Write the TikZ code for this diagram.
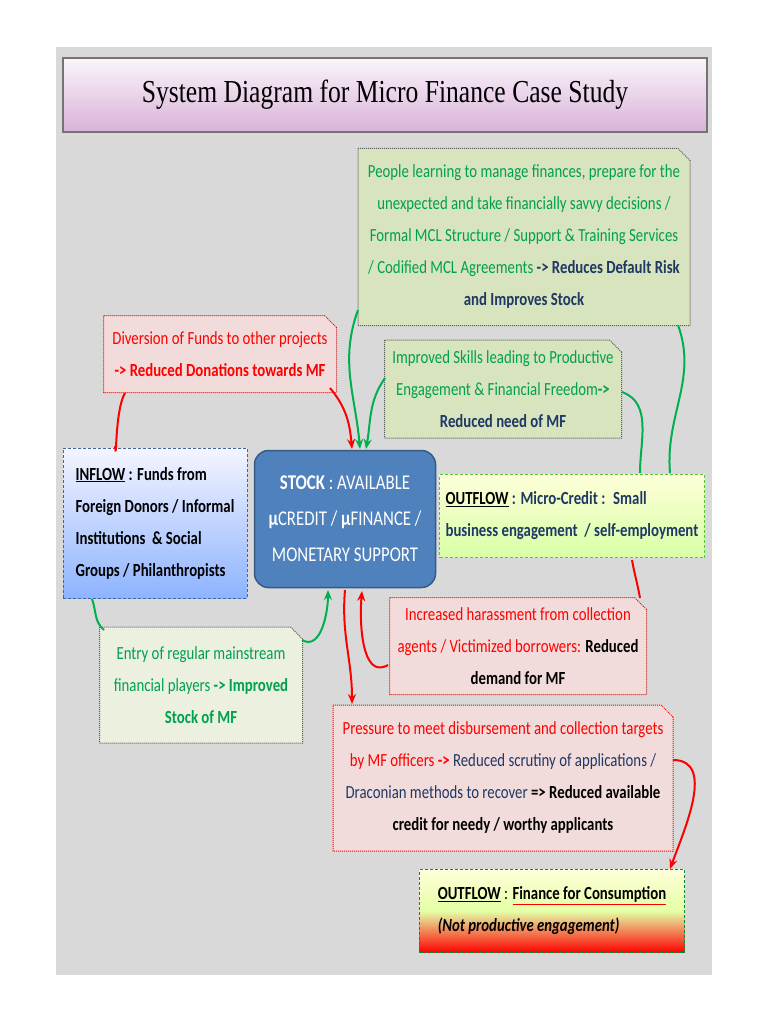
\documentclass[tikz,border=0pt]{standalone}
\usepackage{fontspec}
\setmainfont{Carlito}[FakeStretch=0.8]
\newfontfamily\titlefont{Liberation Serif}[FakeStretch=0.8]
\usetikzlibrary{shapes.misc,arrows.meta}
\definecolor{bgg}{HTML}{D9D9D9}
\definecolor{gtxt}{HTML}{00A050}
\definecolor{navy}{HTML}{1F3864}
\definecolor{gfill}{HTML}{D7E4BD}
\definecolor{lgfill}{HTML}{EBF1DE}
\definecolor{pfill}{HTML}{F2DCDB}
\definecolor{stockc}{HTML}{4F81BD}
\definecolor{arrg}{HTML}{00B050}
\tikzset{
 box/.style={chamfered rectangle,chamfered rectangle corners=north east,chamfered rectangle xsep=6pt,chamfered rectangle ysep=6pt,inner sep=0pt,align=center,font=\fontsize{18.5}{32}\selectfont},
 gbox/.style={box,fill=gfill,draw=black!65,densely dotted,line width=1pt,text=gtxt},
 lgbox/.style={box,fill=lgfill,draw=black!65,densely dotted,line width=1pt,text=gtxt},
 pbox/.style={box,fill=pfill,draw=red,densely dotted,line width=1pt,text=red},
 rarr/.style={draw=red,line width=2pt,-{Stealth[length=10pt,width=8pt]}},
 garr/.style={draw=arrg,line width=2pt,-{Stealth[length=10pt,width=8pt]}},
 rline/.style={draw=red,line width=2pt},
 gline/.style={draw=arrg,line width=2pt},
}
\begin{document}
\begin{tikzpicture}[x=1pt,y=-1pt]
\useasboundingbox (0,0) rectangle (768,1024);
\fill[white] (0,0) rectangle (768,1024);
\fill[bgg] (56,47) rectangle (712,975);
\node[draw=black!55,line width=1.5pt,top color=white!80!violet!20,bottom color=violet!30!white,minimum width=644pt,minimum height=74pt,inner sep=0pt,font=\titlefont\fontsize{32}{34}\selectfont] (title) at (385,95) {System Diagram for Micro Finance Case Study};

\node[gbox,minimum width=332pt,minimum height=177pt] (top) at (524,237) {People learning to manage finances, prepare for the\\ unexpected and take financially savvy decisions /\\ Formal MCL Structure / Support \& Training Services\\ / Codified MCL Agreements {\bfseries\color{navy}-> Reduces Default Risk}\\ {\bfseries\color{navy}and Improves Stock}};

\node[pbox,minimum width=233pt,minimum height=77pt] (div) at (220,354) {Diversion of Funds to other projects\\ {\bfseries -> Reduced Donations towards MF}};

\node[gbox,minimum width=237pt,minimum height=98pt] (skill) at (503,389) {Improved Skills leading to Productive\\ Engagement \& Financial Freedom{\bfseries ->}\\ {\bfseries\color{navy}Reduced need of MF}};

\node[draw=stockc!80!black,densely dashed,line width=1pt,top color=blue!4!white,bottom color=blue!35!white!85!cyan,minimum width=184pt,minimum height=150pt,inner sep=0pt,align=left,font=\fontsize{18.5}{32}\selectfont\bfseries] (in) at (155,523) {\underline{INFLOW} : Funds from\\ Foreign Donors / Informal\\ Institutions \ \& Social\\ Groups / Philanthropists};

\node[rounded corners=14pt,fill=stockc,draw=stockc!70!black,line width=1.5pt,minimum width=181pt,minimum height=137pt,inner sep=0pt,align=center,text=white,font=\fontsize{21}{36}\selectfont] (stock) at (345,519) {{\bfseries STOCK} : AVAILABLE\\ {\bfseries µ}CREDIT / {\bfseries µ}FINANCE /\\ MONETARY SUPPORT};

\node[draw=arrg!70!yellow,densely dashed,line width=1pt,top color=yellow!15!white,bottom color=green!45!yellow!35!white,minimum width=265pt,minimum height=83pt,inner sep=0pt,align=left,font=\fontsize{18.5}{32}\selectfont\bfseries,text=navy] (out1) at (572,516) {{\color{black}\underline{OUTFLOW}} : Micro-Credit : \ Small\\ business engagement \ / self-employment};

\node[lgbox,minimum width=203pt,minimum height=116pt] (entry) at (201,685) {Entry of regular mainstream\\ financial players {\bfseries -> Improved}\\ {\bfseries Stock of MF}};

\node[pbox,minimum width=257pt,minimum height=97pt] (har) at (518,646) {Increased harassment from collection\\ agents / Victimized borrowers: {\bfseries\color{black}Reduced}\\ {\bfseries\color{black}demand for MF}};

\node[pbox,minimum width=340pt,minimum height=146pt] (pres) at (503,778) {Pressure to meet disbursement and collection targets\\ by MF officers {\bfseries->} {\color{navy}Reduced scrutiny of applications /}\\ {\color{navy}Draconian methods to recover} {\bfseries\color{black}=> Reduced available}\\ {\bfseries\color{black}credit for needy / worthy applicants}};

\node[draw=arrg!80!black,densely dashed,line width=1pt,top color=yellow!15!white,bottom color=red,middle color=green!30!yellow!35!white,minimum width=265pt,minimum height=83pt,inner sep=0pt,align=left,font=\fontsize{18.5}{32}\selectfont] (out2) at (552,911) {{\bfseries\underline{OUTFLOW}} : {\color{red}\underline{\color{black}\bfseries Finance for Consumption}}\\ {\bfseries\itshape (Not productive engagement)}};

% connectors
\coordinate (a1) at (115,446); \coordinate (a2) at (125,393);
\draw[rline] (a1) to[out=-85,in=-120] (a2);
\coordinate (b1) at (330,388); \coordinate (b2) at (352,449);
\draw[rarr] (b1) to[out=-50,in=95] (b2);
\coordinate (c1) at (358,310); \coordinate (c2) at (360,449);
\draw[garr] (c1) to[out=-110,in=95] (c2);
\coordinate (d1) at (385,378); \coordinate (d2) at (366,449);
\draw[garr] (d1) to[out=-125,in=80] (d2);
\coordinate (e1) at (678,325); \coordinate (e2) at (670,473);
\draw[gline] (e1) to[out=-70,in=95] (e2);
\coordinate (f1) at (622,392); \coordinate (f2) at (640,473);
\draw[gline] (f1) to[out=-20,in=90] (f2);
\coordinate (g1) at (92,599); \coordinate (g2) at (104,630);
\draw[gline] (g1) to[out=-70,in=140] (g2);
\coordinate (h1) at (302,640); \coordinate (h2) at (328,590);
\draw[garr] (h1) to[out=-30,in=-90] (h2);
\coordinate (i1) at (632,560); \coordinate (i2) at (640,598);
\draw[rline] (i1) to[out=-80,in=100] (i2);
\coordinate (j1) at (388,665); \coordinate (j2) at (362,591);
\draw[rarr] (j1) to[out=-150,in=-95] (j2);
\coordinate (k1) at (345,590); \coordinate (k2) at (352,704);
\draw[rarr] (k1) to[out=-95,in=90] (k2);
\coordinate (l1) at (673,760); \coordinate (l2) at (670,869);
\draw[rarr] (l1) to[out=0,in=70] (l2);
\end{tikzpicture}
\end{document}
